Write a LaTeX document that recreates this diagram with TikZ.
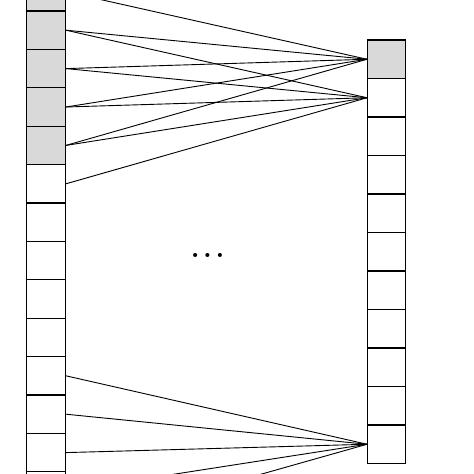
\documentclass[tikz,border=0pt]{standalone}
\usepackage{fontspec}
\definecolor{shade}{HTML}{D9D9D9}
\begin{document}
\begin{tikzpicture}[x=1pt,y=-1pt,
  cell/.style={draw=black, line width=1.3pt, rectangle, inner sep=0pt},
  lcell/.style={cell, minimum width=38.6pt, minimum height=38.4pt},
  rcell/.style={cell, minimum width=38pt, minimum height=38.5pt},
  conn/.style={line width=0.9pt, draw=black},
  dots/.style={inner sep=0pt}]
\useasboundingbox (0,0) rectangle (474,474);
\clip (0,0) rectangle (474,474);
\foreach \i in {-1,...,14} {
  \pgfmathsetmacro\yy{30.2+38.4*(\i-1)}
  \ifnum\i<5 \def\f{shade}\else\def\f{white}\fi
  \node[lcell, fill=\f] (L\i) at (46,\yy) {};
}
\foreach \j in {1,...,11} {
  \pgfmathsetmacro\yy{59.25+38.5*(\j-1)}
  \ifnum\j<2 \def\f{shade}\else\def\f{white}\fi
  \node[rcell, fill=\f] (R\j) at (386.7,\yy) {};
}
\foreach \k in {0,...,4} \draw[conn] (L\k.east) -- (R1.west);
\foreach \k in {1,...,5} \draw[conn] (L\k.east) -- (R2.west);
\foreach \k in {10,...,14} \draw[conn] (L\k.east) -- (R11.west);
\node[dots, anchor=base] (ell) at (207.6,257.6) {\fontsize{28}{28}\selectfont\bfseries .\kern 3.6pt.\kern 3.6pt.};
\end{tikzpicture}
\end{document}
